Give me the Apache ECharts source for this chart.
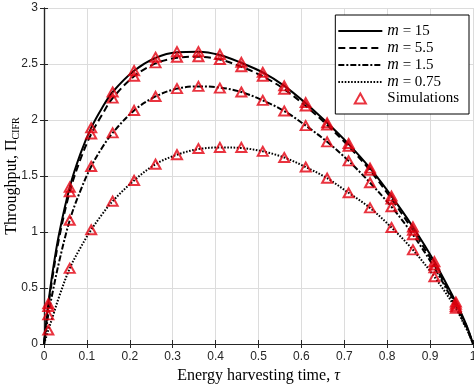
<!DOCTYPE html>
<html>
<head>
<meta charset="utf-8">
<script src="https://cdn.jsdelivr.net/npm/echarts@6/dist/echarts.min.js"></script>
<style>html,body{margin:0;padding:0;background:#fff}#c{width:474px;height:384px}</style>
</head>
<body>
<div id="c"></div>
<script>
// Simulation points (triangles)
const tauSim = [0.01,0.06,0.11,0.16,0.21,0.26,0.31,0.36,0.41,0.46,0.51,0.56,0.61,0.66,0.71,0.76,0.81,0.86,0.91,0.96];
const simM15  = [0.36,1.40,1.93,2.25,2.44,2.56,2.61,2.61,2.585,2.515,2.425,2.305,2.155,1.975,1.79,1.57,1.32,1.045,0.735,0.375];
const simM55  = [0.335,1.36,1.875,2.195,2.39,2.51,2.56,2.565,2.54,2.475,2.39,2.275,2.125,1.955,1.765,1.55,1.295,1.015,0.705,0.355];
const simM15b = [0.26,1.105,1.585,1.885,2.085,2.21,2.28,2.30,2.285,2.25,2.175,2.08,1.95,1.805,1.635,1.44,1.225,0.975,0.68,0.335];
const simM075 = [0.125,0.675,1.02,1.275,1.46,1.605,1.69,1.745,1.755,1.755,1.72,1.665,1.58,1.48,1.35,1.215,1.04,0.84,0.60,0.318];

// Analytical curves (lines)
const tauLine = [0,0.002,0.005,0.01,0.02,0.035,0.06,0.085,0.11,0.135,0.16,0.21,0.26,0.31,0.36,0.41,0.46,0.51,0.56,0.61,0.66,0.71,0.76,0.81,0.86,0.91,0.96,0.98,0.99,1];
const lineM15  = [0,0.08,0.19,0.36,0.64,0.98,1.40,1.70,1.93,2.105,2.25,2.44,2.555,2.605,2.61,2.58,2.51,2.425,2.305,2.15,1.975,1.785,1.57,1.32,1.045,0.735,0.375,0.21,0.115,0];
const lineM55  = [0,0.072,0.175,0.335,0.60,0.94,1.36,1.65,1.875,2.045,2.195,2.39,2.505,2.555,2.565,2.54,2.475,2.39,2.275,2.125,1.955,1.765,1.55,1.295,1.015,0.705,0.355,0.20,0.11,0];
const lineM15b = [0,0.05,0.13,0.26,0.46,0.73,1.105,1.37,1.585,1.75,1.885,2.085,2.21,2.28,2.30,2.29,2.25,2.175,2.08,1.95,1.805,1.635,1.44,1.225,0.975,0.68,0.335,0.18,0.10,0];
const lineM075 = [0,0.025,0.06,0.125,0.24,0.42,0.675,0.86,1.02,1.155,1.275,1.46,1.605,1.69,1.74,1.755,1.75,1.72,1.665,1.58,1.48,1.35,1.215,1.04,0.84,0.60,0.318,0.17,0.095,0];

const xTicks = { min: 0, max: 1, interval: 0.1 };
const yTicks = { min: 0, max: 3, interval: 0.5 };

const seriesNames = ['m = 15','m = 5.5','m = 1.5','m = 0.75'];
const simName = 'Simulations';
const lineData = [lineM15, lineM55, lineM15b, lineM075];
const simData = [simM15, simM55, simM15b, simM075];
const dashTypes = ['solid', [7,4], [6,2,2,2], [1.6,1.6]];

const zip = (xs, ys) => xs.map((x, i) => [x, ys[i]]);
const RED = '#e3000f';
const serif = 'Liberation Serif';

const series = [];
seriesNames.forEach((n, i) => {
  series.push({
    name: n, type: 'line', data: zip(tauLine, lineData[i]),
    showSymbol: false, symbol: 'none', smooth: 0.35,
    lineStyle: { color: '#000', width: 2, type: dashTypes[i] },
    itemStyle: { color: '#000' }, z: 3, silent: true, animation: false
  });
});
simData.forEach((d) => {
  series.push({
    name: simName, type: 'scatter', data: zip(tauSim, d),
    symbol: 'triangle', symbolSize: [10, 9],
    itemStyle: { color: 'rgba(255,255,255,0)', borderColor: RED, borderWidth: 2 },
    z: 5, silent: true, animation: false
  });
});

const axisCommon = {
  axisLine: { show: true, lineStyle: { color: '#262626', width: 1.2 } },
  axisTick: { show: true, inside: true, length: 4, lineStyle: { color: '#262626', width: 1 } },
};

const chart = echarts.init(document.getElementById('c'), null, { renderer: 'canvas' });
chart.setOption({
  animation: false,
  backgroundColor: '#fff',
  grid: { left: 44, right: 1, top: 8, bottom: 40, containLabel: false, outerBoundsMode: 'none' },
  legend: {
    data: seriesNames.map(n => ({ name: n, itemStyle: { opacity: 0 } })).concat([
      { name: simName, icon: 'path://M5,0 L10,9 L0,9 Z' }
    ]),
    orient: 'vertical', right: 5, top: 15,
    backgroundColor: '#fff', borderColor: '#000', borderWidth: 1,
    padding: [8, 10, 8, 2], itemGap: 1, itemWidth: 44, itemHeight: 10,
    symbolKeepAspect: true,
    textStyle: {
      fontFamily: serif, fontSize: 15, color: '#000',
      rich: { i: { fontFamily: serif, fontStyle: 'italic', fontSize: 16, color: '#000' } }
    },
    formatter: (name) => name.startsWith('m') ? '{i|m}' + name.slice(1) : name
  },
  xAxis: [
    Object.assign({
      type: 'value', position: 'bottom', min: xTicks.min, max: xTicks.max, interval: xTicks.interval,
      name: 'Energy harvesting time, {i|τ}', nameLocation: 'middle', nameGap: 24, nameMoveOverlap: false,
      nameTextStyle: { fontFamily: serif, fontSize: 16, color: '#000',
        rich: { i: { fontFamily: serif, fontStyle: 'italic', fontSize: 16, color: '#000' } } },
      axisLabel: { fontFamily: 'Liberation Sans', fontSize: 12, color: '#262626', margin: 7 },
      splitLine: { show: true, lineStyle: { color: '#dcdcdc', width: 1 } }
    }, axisCommon),
    Object.assign({
      type: 'value', position: 'top', min: xTicks.min, max: xTicks.max, interval: xTicks.interval,
      axisLabel: { show: false }, splitLine: { show: false }
    }, axisCommon)
  ],
  yAxis: [
    Object.assign({
      type: 'value', position: 'left', min: yTicks.min, max: yTicks.max, interval: yTicks.interval,
      name: 'Throughput, Π{s|CIFR}', nameLocation: 'middle', nameGap: 23, nameMoveOverlap: false,
      nameTextStyle: { fontFamily: serif, fontSize: 16, color: '#000', lineHeight: 18,
        rich: { s: { fontFamily: serif, fontSize: 10, color: '#000', lineHeight: 18, verticalAlign: 'bottom' } } },
      axisLabel: { fontFamily: 'Liberation Sans', fontSize: 12, color: '#262626', margin: 6 },
      splitLine: { show: true, lineStyle: { color: '#dcdcdc', width: 1 } }
    }, axisCommon),
    Object.assign({
      type: 'value', position: 'right', min: yTicks.min, max: yTicks.max, interval: yTicks.interval,
      axisLabel: { show: false }, splitLine: { show: false }
    }, axisCommon)
  ],
  series: series
});
</script>
</body>
</html>
